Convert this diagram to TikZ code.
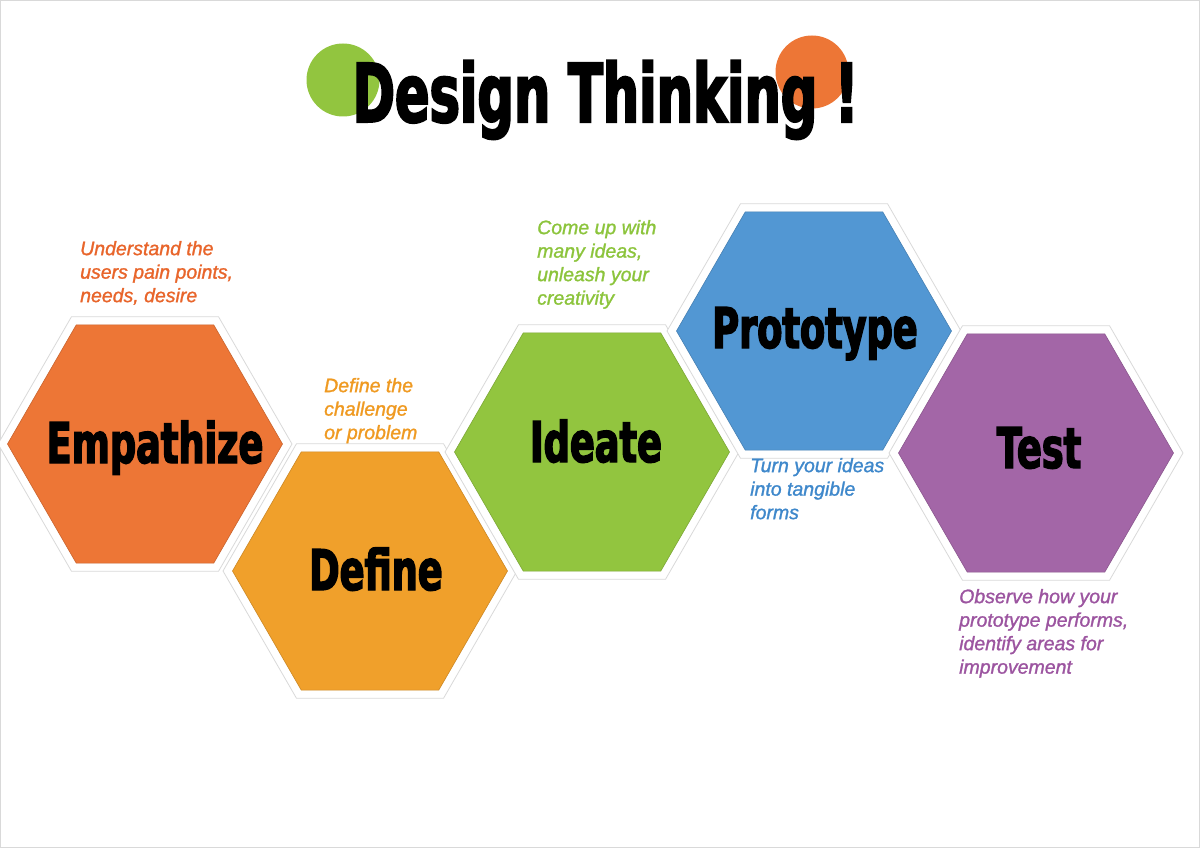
\documentclass[tikz,border=0pt]{standalone}
\usepackage{fontspec}
\setmainfont{Liberation Sans}
\newfontfamily\headfont{DejaVu Sans}[FakeStretch=0.63,FakeBold=2.5]
\newfontfamily\cellfont{DejaVu Sans}[FakeStretch=0.655,FakeBold=2.5]
\newfontfamily\notefont{Liberation Sans}[ItalicFeatures={FakeBold=1.3}]
\usetikzlibrary{shapes.geometric}

\definecolor{rimgray}{HTML}{D9D9D9}
\definecolor{empcol}{HTML}{ED7636}
\definecolor{defcol}{HTML}{F0A02B}
\definecolor{idecol}{HTML}{92C53F}
\definecolor{procol}{HTML}{5297D3}
\definecolor{tstcol}{HTML}{A366A7}
\definecolor{empnotecol}{HTML}{E8652B}
\definecolor{defnotecol}{HTML}{EF9A22}
\definecolor{idenotecol}{HTML}{8CC43C}
\definecolor{pronotecol}{HTML}{3F88CB}
\definecolor{tstnotecol}{HTML}{9C55A0}

\begin{document}
\begin{tikzpicture}[x=1pt,y=-1pt,
    hexrim/.style={regular polygon, regular polygon sides=6, minimum size=294pt,
        draw=rimgray, line width=0.8pt, fill=white},
    hexcore/.style={regular polygon, regular polygon sides=6, minimum size=275pt,
        line width=0.6pt},
    title/.style={font=\headfont\bfseries\fontsize{81}{81}\selectfont, anchor=base, inner sep=0pt},
    hexlabel/.style={font=\cellfont\bfseries\fontsize{56}{56}\selectfont, anchor=base, inner sep=0pt},
    note/.style={font=\notefont\itshape\fontsize{19.5}{23.5}\selectfont, align=left,
        anchor=north west, inner sep=0pt}]
    \useasboundingbox (0,0) rectangle (1200,848);
    \draw[rimgray, line width=1pt] (0.5,0.5) rectangle (1199.5,847.5);

    % title with the two dots behind it
    \fill[idecol] (343,80) circle[radius=36.5];
    \fill[empcol] (812,72) circle[radius=36.5];
    \node[title] (title) at (605.5,122) {Design Thinking !};

    % white rims
    \node[hexrim] (empo) at (145,444) {};
    \node[hexrim] (defo) at (370,571) {};
    \node[hexrim] (ideo) at (592,452) {};
    \node[hexrim] (proo) at (814,331) {};
    \node[hexrim] (tsto) at (1036,453) {};

    % coloured cells
    \node[hexcore, fill=empcol, draw=empcol!85!black] (emp) at (empo) {};
    \node[hexcore, fill=defcol, draw=defcol!85!black] (def) at (defo) {};
    \node[hexcore, fill=idecol, draw=idecol!85!black] (ide) at (ideo) {};
    \node[hexcore, fill=procol, draw=procol!85!black] (pro) at (proo) {};
    \node[hexcore, fill=tstcol, draw=tstcol!85!black] (tst) at (tsto) {};

    \node[hexlabel] (emplbl) at (155,463) {Empathize};
    \node[hexlabel] (deflbl) at (376,590) {Define};
    \node[hexlabel] (idelbl) at (596,462) {Ideate};
    \node[hexlabel] (prolbl) at (815,348) {Prototype};
    \node[hexlabel] (tstlbl) at (1039,468) {Test};

    % notes
    \node[note, text=empnotecol] (empnote) at (80,240.8) {Understand the\\users pain points,\\needs, desire};
    \node[note, text=defnotecol] (defnote) at (324,377.8) {Define the\\challenge\\or problem};
    \node[note, text=idenotecol] (idenote) at (537,219.8) {Come up with\\many ideas,\\unleash your\\creativity};
    \node[note, text=pronotecol] (pronote) at (750,457.8) {Turn your ideas\\into tangible\\forms};
    \node[note, text=tstnotecol] (tstnote) at (959,588.8) {Observe how your\\prototype performs,\\identify areas for\\improvement};
\end{tikzpicture}
\end{document}
